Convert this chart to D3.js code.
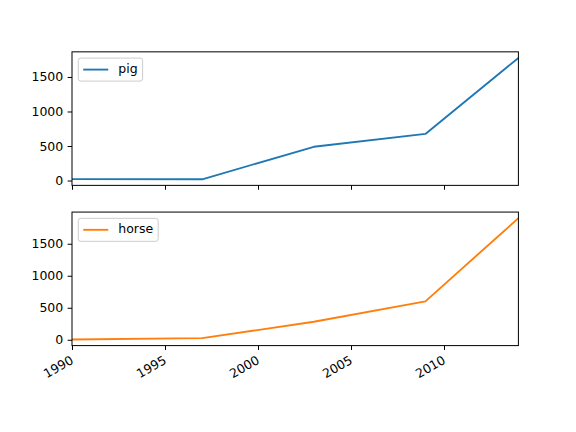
<!DOCTYPE html>
<html>
<head>
<meta charset="utf-8">
<script src="https://cdn.jsdelivr.net/npm/d3@7"></script>
<style>
  html, body { margin: 0; padding: 0; background: #fff; }
  text { font-family: "DejaVu Sans", sans-serif; }
</style>
</head>
<body>
<div id="chart"></div>
<script>
// Données
const years = [1990, 1997, 2003, 2009, 2014]
const pig = [20, 18, 489, 675, 1776]
const horse = [4, 25, 281, 600, 1900]
const xTicks = [1990, 1995, 2000, 2005, 2010]
const yTicks = [0, 500, 1000, 1500]
const seriesNames = ["pig", "horse"]
const seriesColors = ["#1f77b4", "#ff7f0e"]

const W = 576, H = 432
const plotLeft = 72, plotRight = 518.4
const plotTop = 51.84, plotBottom = 345.6
const axH = (plotBottom - plotTop) / 2.2
const gap = axH * 0.2
const fs = 12.5, tickLen = 4.375, pad = 4.375

const svg = d3.select("#chart").append("svg")
  .attr("width", W).attr("height", H)
  .style("background", "#fff")

const x = d3.scaleLinear()
  .domain(d3.extent(years))
  .range([plotLeft, plotRight])

const allSeries = [pig, horse]

allSeries.forEach((vals, i) => {
  const y0 = plotTop + i * (axH + gap)
  const y1 = y0 + axH
  const lo = d3.min(vals), hi = d3.max(vals)
  const m = (hi - lo) * 0.05
  const y = d3.scaleLinear().domain([lo - m, hi + m]).range([y1, y0])

  const g = svg.append("g")

  // ligne de la série
  g.append("path")
    .datum(years.map((yr, k) => [yr, vals[k]]))
    .attr("fill", "none")
    .attr("stroke", seriesColors[i])
    .attr("stroke-width", 1.875)
    .attr("stroke-linejoin", "round")
    .attr("d", d3.line().x(d => x(d[0])).y(d => y(d[1])))

  // axe Y
  const ay = g.append("g")
    .attr("transform", `translate(${plotLeft},0)`)
    .call(d3.axisLeft(y).tickValues(yTicks).tickSize(tickLen).tickPadding(pad).tickFormat(d3.format("d")))
  ay.select(".domain").remove()
  ay.selectAll("line").attr("stroke", "#000").attr("stroke-width", 1)
  ay.selectAll("text").attr("font-size", fs).attr("fill", "#000")
    .attr("font-family", "DejaVu Sans")

  // axe X (labels seulement sur le dernier subplot)
  const last = i === allSeries.length - 1
  const ax = g.append("g")
    .attr("transform", `translate(0,${y1})`)
    .call(d3.axisBottom(x).tickValues(xTicks).tickSize(tickLen).tickPadding(pad).tickFormat(last ? d3.format("d") : ""))
  ax.select(".domain").remove()
  ax.selectAll("line").attr("stroke", "#000").attr("stroke-width", 1)
  if (last) {
    ax.selectAll("text")
      .attr("font-size", fs).attr("fill", "#000").attr("font-family", "DejaVu Sans")
      .attr("text-anchor", "end")
      .attr("dy", null)
      .attr("y", 0)
      .attr("dominant-baseline", "hanging")
      .attr("transform", `translate(-3,${tickLen + pad}) rotate(-30)`)
  } else {
    ax.selectAll("text").remove()
  }

  // cadre
  g.append("rect")
    .attr("x", plotLeft).attr("y", y0)
    .attr("width", plotRight - plotLeft).attr("height", axH)
    .attr("fill", "none").attr("stroke", "#000").attr("stroke-width", 1)

  // légende
  const lx = plotLeft + 6.25, ly = y0 + 6.25
  const leg = g.append("g").attr("transform", `translate(${lx},${ly})`)
  const txt = leg.append("text")
    .attr("x", 5 + 25 + 10).attr("y", 11.5)
    .attr("dominant-baseline", "middle")
    .attr("font-size", fs).attr("fill", "#000")
    .text(seriesNames[i])
  const tw = txt.node().getComputedTextLength()
  leg.insert("rect", "text")
    .attr("width", 5 + 25 + 10 + tw + 5).attr("height", 23)
    .attr("rx", 2.5)
    .attr("fill", "#fff").attr("fill-opacity", 0.8)
    .attr("stroke", "#ccc").attr("stroke-width", 1)
  leg.append("line")
    .attr("x1", 5).attr("x2", 30).attr("y1", 11.5).attr("y2", 11.5)
    .attr("stroke", seriesColors[i]).attr("stroke-width", 1.875)
})
</script>
</body>
</html>
